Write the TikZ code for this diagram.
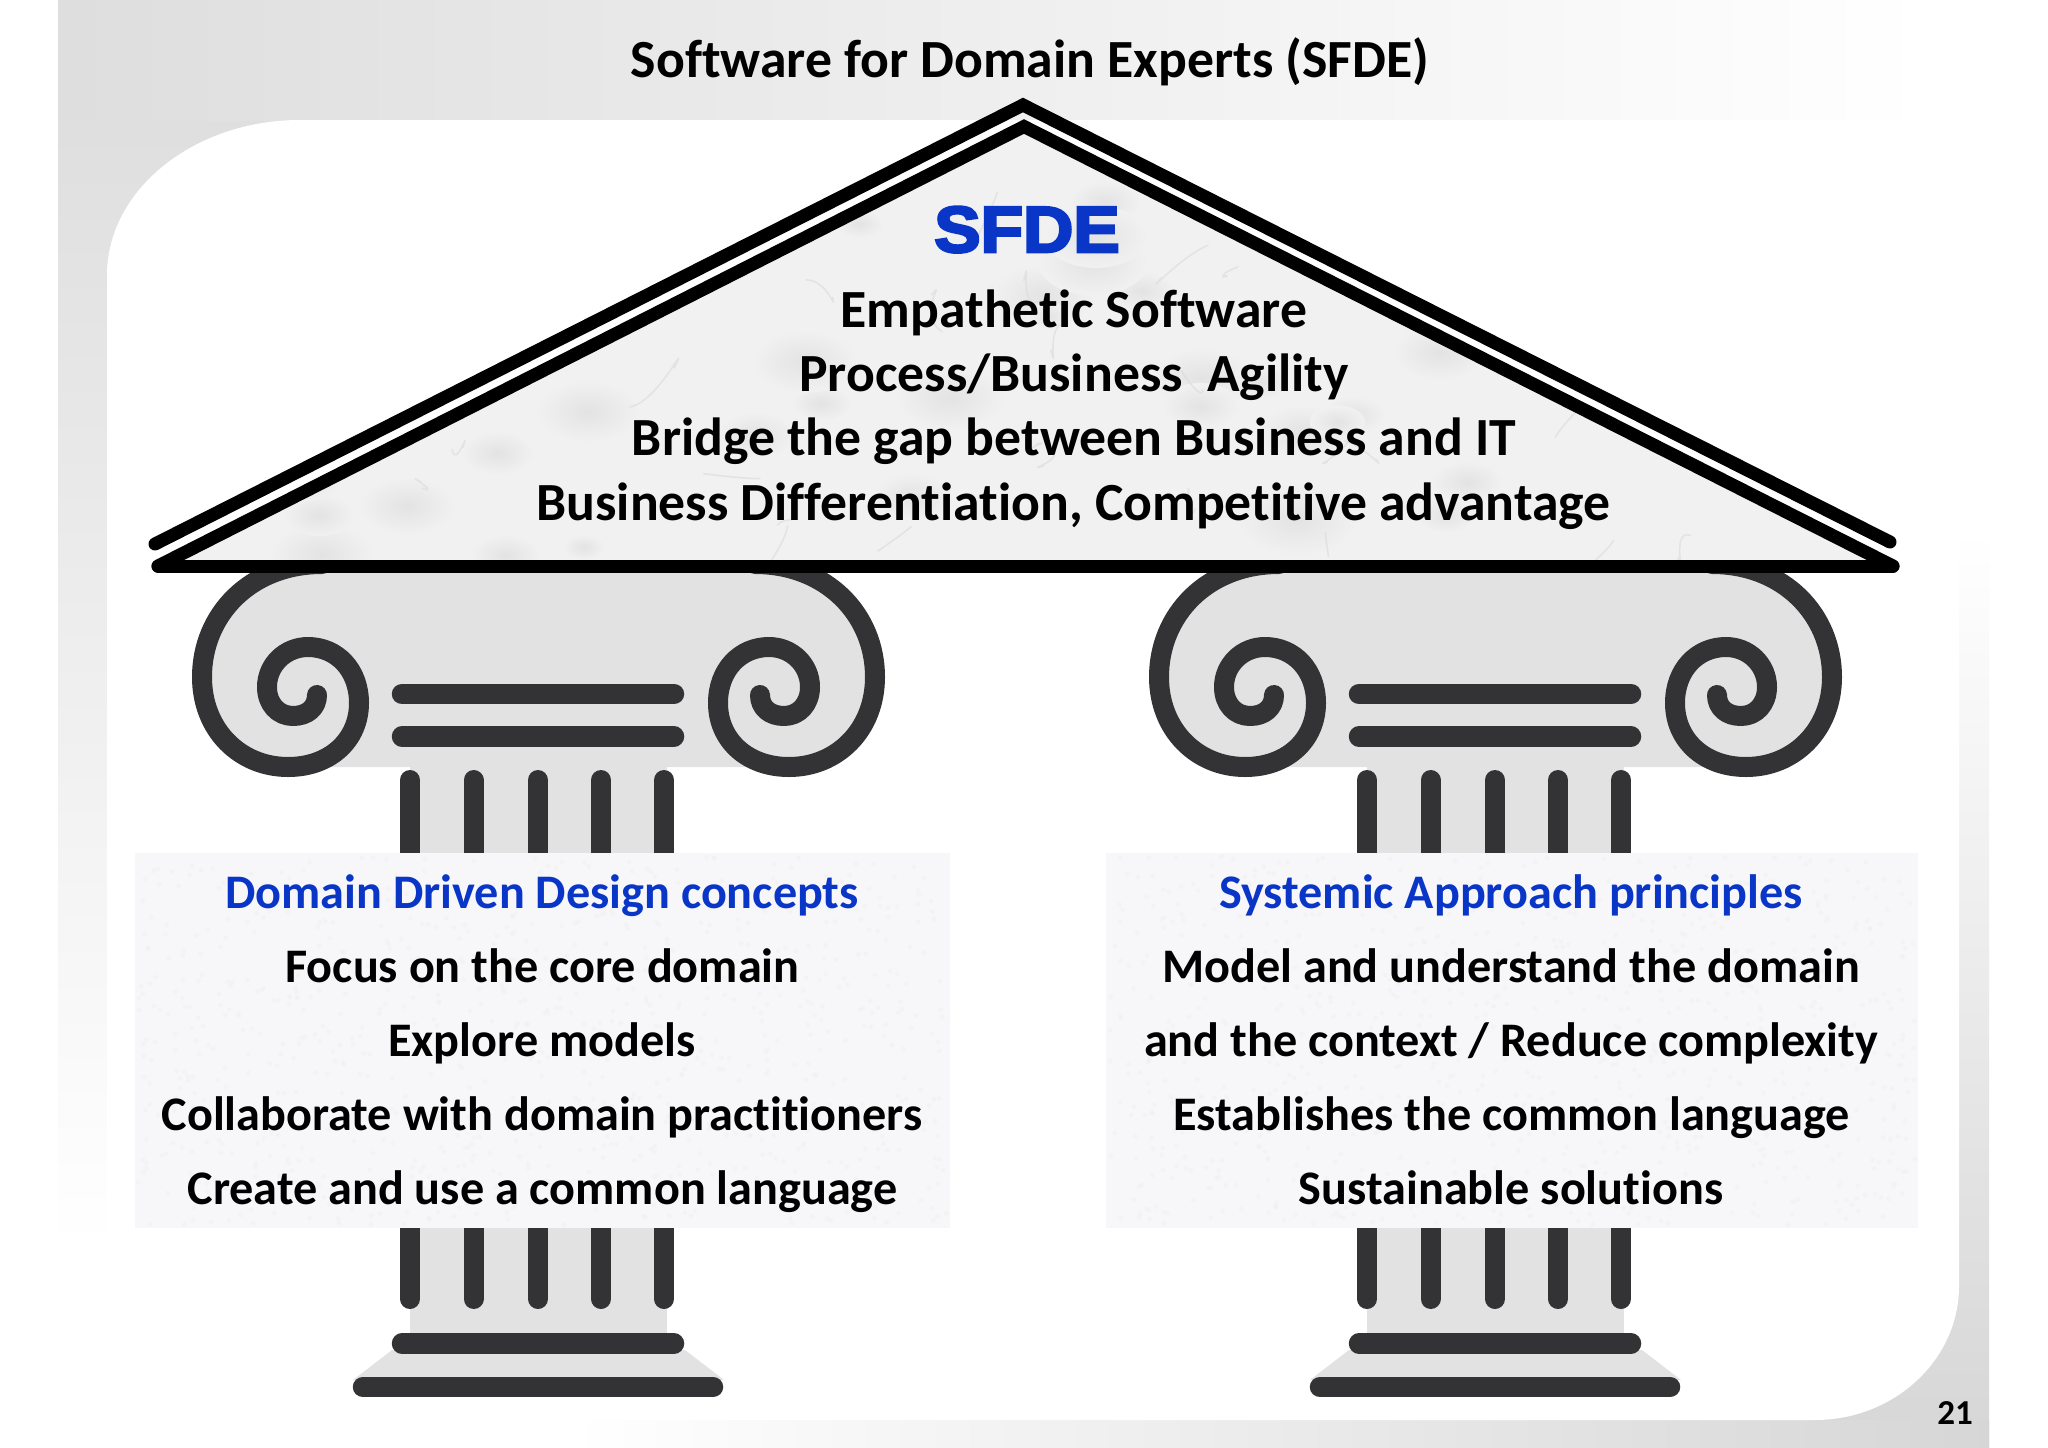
\documentclass[tikz,border=0pt]{standalone}
\usepackage{fontspec}
\setmainfont[Ligatures=NoCommon]{Carlito}
\newfontfamily\sfdefont[FakeBold=4,FakeStretch=1.07]{Liberation Sans Bold}
\definecolor{ink}{HTML}{333335}
\definecolor{capgray}{HTML}{E2E2E3}
\definecolor{bluetxt}{HTML}{0A36C8}
\definecolor{panelgray}{HTML}{F7F6F8}
\definecolor{marble}{HTML}{F1F1F1}
\begin{document}
\begin{tikzpicture}[x=1pt,y=-1pt,
  bodytext/.style={font=\fontsize{48.2}{50}\selectfont\bfseries,text=black,inner sep=0pt,anchor=base},
  bigtext/.style={bodytext,font=\fontsize{53.7}{56}\selectfont\bfseries},
  headtext/.style={bodytext,text=bluetxt},
  fluteline/.style={draw=ink,line width=20pt,line cap=round},
  barline/.style={draw=ink,line width=20.5pt,line cap=round},
  voluteline/.style={draw=ink,line width=20pt,line cap=round,line join=round},
  roofline/.style={draw=black,line width=13pt,line cap=round,line join=miter}]
\useasboundingbox (0,0) rectangle (2048,1448);
\fill[white] (0,0) rectangle (2048,1448);
% slide frame
\shade[top color=black!14,bottom color=white] (58,0) rectangle (320,1250);
\shade[left color=black!13,right color=white] (58,0) rectangle (1930,120);
\shade[top color=white,bottom color=black!16] (1800,530) rectangle (1989,1448);
\shade[left color=white,right color=black!16] (570,1420) rectangle (1989,1448);
\fill[white] (107,275) .. controls (107,190) and (194,120) .. (300,120) -- (1959,120)
  -- (1959,1286) .. controls (1959,1360) and (1894,1420) .. (1815,1420) -- (107,1420) -- cycle;
% columns
\foreach \dx in {0,957}{
\begin{scope}[shift={(\dx,0)}]
  \fill[capgray] (322,564) .. controls (250,564) and (202,615) .. (202,677)
     .. controls (202,730) and (240,767) .. (288,767) -- (789,767)
     .. controls (837,767) and (875,730) .. (875,677)
     .. controls (875,615) and (827,564) .. (755,564) -- cycle;
  \fill[capgray] (410,760) rectangle (667,1340);
  \fill[capgray] (392,1350) -- (685,1350) -- (724,1380) -- (353,1380) -- cycle;
  \draw[voluteline] (322,564) .. controls (250,564) and (202,615) .. (202,677)
     .. controls (202,730) and (240,767) .. (288,767)
     .. controls (330,767) and (359,740) .. (359,703)
     .. controls (359,670) and (337,647) .. (308,647)
     .. controls (285,647) and (267,665) .. (267,687)
     .. controls (267,704) and (278,716) .. (293,716)
     .. controls (307,716) and (317,708) .. (317,695);
  \draw[voluteline] (755,564) .. controls (827,564) and (875,615) .. (875,677)
     .. controls (875,730) and (837,767) .. (789,767)
     .. controls (747,767) and (718,740) .. (718,703)
     .. controls (718,670) and (740,647) .. (769,647)
     .. controls (792,647) and (810,665) .. (810,687)
     .. controls (810,704) and (799,716) .. (784,716)
     .. controls (770,716) and (760,708) .. (760,695);
  \draw[barline] (402,694) -- (674,694);
  \draw[barline] (402,736.5) -- (674,736.5);
  \foreach \fx in {410,473.5,538,601,664}
    \draw[fluteline] (\fx,780) -- (\fx,1299);
  \draw[barline] (402,1343.5) -- (674,1343.5);
  \draw[barline] (363,1387) -- (713,1387);
\end{scope}}
% text panels
\fill[panelgray] (135,853) rectangle (950,1228);
\fill[panelgray] (1106,853) rectangle (1918,1228);
\pgfmathsetseed{42}
\foreach \i in {1,...,900}{
  \pgfmathsetmacro{\px}{138+809*rnd}
  \pgfmathsetmacro{\py}{856+369*rnd}
  \pgfmathsetmacro{\qx}{1109+806*rnd}
  \pgfmathsetmacro{\qy}{856+369*rnd}
  \fill[black!6,opacity=.4] (\px,\py) circle (2.4pt);
  \fill[black!6,opacity=.4] (\qx,\qy) circle (2.4pt);
}
% pediment
\draw[roofline] (155,544) -- (1023,105) -- (1890,542);
\begin{scope}
  \clip (158,566) -- (1024,126.5) -- (1893,566) -- cycle;
  \fill[marble] (150,120) rectangle (1900,570);
  \foreach \i in {1,...,60}{
    \pgfmathsetmacro{\bx}{170+1710*rnd}
    \pgfmathsetmacro{\by}{140+420*rnd}
    \pgfmathsetmacro{\br}{20+40*rnd}
    \shade[inner color=black!11,outer color=marble] (\bx,\by) ellipse ({\br pt} and {0.6*\br pt});
  }
  \foreach \i in {1,...,40}{
    \pgfmathsetmacro{\bx}{170+1710*rnd}
    \pgfmathsetmacro{\by}{140+420*rnd}
    \pgfmathsetmacro{\dxa}{-25+50*rnd}
    \pgfmathsetmacro{\dya}{-25+50*rnd}
    \pgfmathsetmacro{\dxb}{-35+70*rnd}
    \pgfmathsetmacro{\dyb}{-35+70*rnd}
    \draw[black!14,line width=1.6pt,opacity=.6,line cap=round,line join=round]
      (\bx,\by) .. controls +(\dxb,\dya) and +(\dxa,\dyb) .. ++(\dxa+\dxb,\dya+\dyb);
  }
\end{scope}
\draw[roofline] (158,566) -- (1024,126.5) -- (1893,566);
\draw[roofline] (158,566) -- (1893,566);
% texts
\node[bigtext] (title) at (1030,77) {Software for Domain Experts (SFDE)};
\node[anchor=base,inner sep=0pt,text=bluetxt,font=\fontsize{65}{67}\sfdefont] (sfde) at (1027,252) {SFDE};
\node[bigtext] (roofa) at (1074,327) {Empathetic Software};
\node[bigtext] (roofb) at (1074,391) {Process/Business\ \ Agility};
\node[bigtext] (roofc) at (1074,455) {Bridge the gap between Business and IT};
\node[bigtext] (roofd) at (1073.5,520) {Business Differentiation, Competitive advantage};
\node[headtext] (lhead) at (542,908) {Domain Driven Design concepts};
\node[bodytext] (la) at (542.5,982) {Focus on the core domain};
\node[bodytext] (lb) at (542,1056) {Explore models};
\node[bodytext] (lc) at (542,1130) {Collaborate with domain practitioners};
\node[bodytext] (ld) at (542.5,1204) {Create and use a common language};
\node[headtext] (rhead) at (1511,908) {Systemic Approach principles};
\node[bodytext] (ra) at (1511,982) {Model and understand the domain};
\node[bodytext] (rb) at (1511,1056) {and the context / Reduce complexity};
\node[bodytext] (rc) at (1511.5,1130) {Establishes the common language};
\node[bodytext] (rd) at (1511,1204) {Sustainable solutions};
\node[anchor=base,inner sep=0pt,font=\fontsize{35}{37}\selectfont\bfseries] (pageno) at (1955,1424) {21};
\end{tikzpicture}
\end{document}
